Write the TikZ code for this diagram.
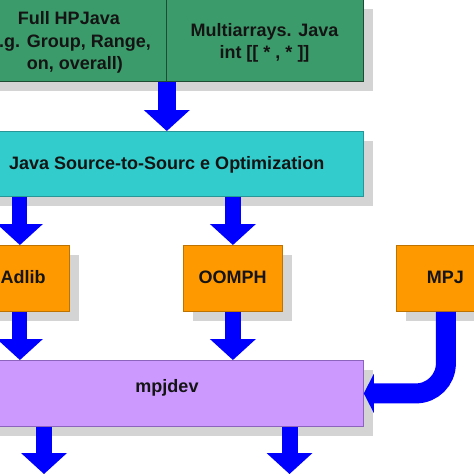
\documentclass[tikz,border=0pt]{standalone}
\usepackage{fontspec}
\setmainfont{Liberation Sans}
\usetikzlibrary{arrows.meta,shadows}
\definecolor{hpgreen}{RGB}{60,155,106}
\definecolor{hpgreenline}{RGB}{30,75,50}
\definecolor{hpcyan}{RGB}{51,204,204}
\definecolor{hpcyanline}{RGB}{40,150,150}
\definecolor{hporange}{RGB}{255,153,0}
\definecolor{hporangeline}{RGB}{190,115,0}
\definecolor{hppurple}{RGB}{204,153,255}
\definecolor{hppurpleline}{RGB}{140,100,190}
\definecolor{hpshadow}{RGB}{212,212,212}
\definecolor{hpblue}{RGB}{0,0,255}
\definecolor{hptext}{RGB}{20,20,20}
\begin{document}
\begin{tikzpicture}[x=1pt,y=-1pt,
  box/.style={draw, line width=0.8pt, inner sep=0pt, anchor=north west,
    drop shadow={shadow xshift=10pt, shadow yshift=-10pt, fill=hpshadow, opacity=1}},
  greenbox/.style={box, fill=hpgreen, draw=hpgreenline},
  cyanbox/.style={box, fill=hpcyan, draw=hpcyanline},
  orangebox/.style={box, fill=hporange, draw=hporangeline, minimum width=99pt, minimum height=66pt},
  purplebox/.style={box, fill=hppurple, draw=hppurpleline},
  lbl/.style={font=\fontsize{18}{22}\selectfont\bfseries, text=hptext, inner sep=0pt},
  flow/.style={draw=hpblue, line width=#1, -{Triangle[length=21pt,width=46pt,line width=0pt]}},
  ]
\useasboundingbox (0,0) rectangle (474,474);
\fill[white] (0,0) rectangle (474,474);

% boxes
\node[greenbox, minimum width=206pt, minimum height=82pt] (cellL) at (-40,-1) {};
\node[greenbox, minimum width=197pt, minimum height=82pt] (cellR) at (166,-1) {};
\node[cyanbox, minimum width=403pt, minimum height=65pt] (cyan) at (-40,131) {};
\node[orangebox] (adlib) at (-30,245) {};
\node[orangebox] (oomph) at (183,245) {};
\node[orangebox] (mpj) at (396,245) {};
\node[purplebox, minimum width=403pt, minimum height=66pt] (mpjdev) at (-40,360) {};

% labels
\node[lbl, anchor=base east] (fullA) at (120,24.5) {Full HPJava};
\node[lbl, anchor=base east] (fullB) at (151,47) {.g. Group, Range,};
\node[lbl, anchor=base east] (fullC) at (123,69.5) {on, overall)};
\node[lbl, anchor=base] (multiA) at (264.5,36) {Multiarrays. Java};
\node[lbl, anchor=base] (multiB) at (264.5,58) {int [[ * , * ]]};
\node[lbl, anchor=base west] (opt) at (9,169.5) {Java Source-to-Sourc\kern5pt e Optimization};
\node[lbl, anchor=base west] (adlibT) at (0.5,283) {Adlib};
\node[lbl, anchor=base] (oomphT) at (232.5,283) {OOMPH};
\node[lbl, anchor=base] (mpjT) at (445.5,283) {MPJ};
\node[lbl, anchor=base] (mpjdevT) at (167,392.7) {mpjdev};

% free ends
\coordinate (out1) at (44,474);
\coordinate (out2) at (289.5,474);

% connectors
\draw[flow=18pt] (cellL.south east) -- (cellL.south east |- cyan.north);
\draw[flow=15pt] (adlib.north |- cyan.south) -- (adlib.north);
\draw[flow=16pt] (oomph.north |- cyan.south) -- (oomph.north);
\draw[flow=15pt] (adlib.south) -- (adlib.south |- mpjdev.north);
\draw[flow=16pt] (oomph.south) -- (oomph.south |- mpjdev.north);
\draw[flow=16pt] (out1 |- mpjdev.south) -- (out1);
\draw[flow=16pt] (out2 |- mpjdev.south) -- (out2);
\draw[draw=hpblue, line width=20pt, rounded corners=30pt,
  -{Triangle[length=10pt,width=39pt,line width=0pt]}] (mpj.south) |- (mpjdev.east);
\end{tikzpicture}
\end{document}
